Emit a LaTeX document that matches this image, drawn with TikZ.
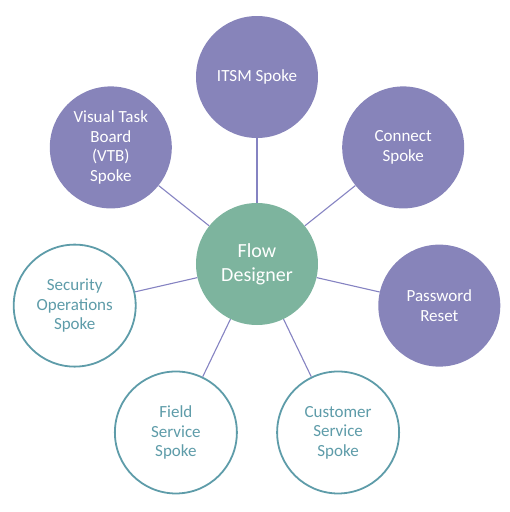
\documentclass[tikz,border=0pt]{standalone}
\usepackage{fontspec}
\setmainfont{Carlito}
\definecolor{spokefill}{HTML}{8784BA}
\definecolor{hubfill}{HTML}{7DB49E}
\definecolor{ringline}{HTML}{5E9CA9}
\definecolor{linkline}{HTML}{8583C2}
\begin{document}
\begin{tikzpicture}[x=1pt,y=1pt,
    spoke/.style={circle,fill=spokefill,text=white,minimum size=122pt,inner sep=0pt,align=center,font=\fontsize{17}{19.5}\selectfont},
    ring/.style={circle,draw=ringline,line width=1.8pt,fill=white,text=ringline,minimum size=122pt,inner sep=0pt,align=center,font=\fontsize{17}{19.5}\selectfont},
    link/.style={draw=linkline,line width=1.1pt}]
        \useasboundingbox (-257,-248) rectangle (253,264);
        %% Hub
        \node[circle,fill=hubfill,text=white,minimum size=122pt,inner sep=0pt,align=center,font=\fontsize{20}{24}\selectfont] (hub) at (0,0) {Flow\\Designer};
        %% Spokes
        \node[spoke] (itsm) at (90:187) {ITSM Spoke};
        \node[spoke] (connect) at (38.57:187) {Connect\\Spoke};
        \node[spoke] (reset) at (-12.86:187) {Password\\Reset};
        \node[ring] (csm) at (-64.29:187) {Customer\\Service\\Spoke};
        \node[ring] (field) at (-115.71:187) {Field\\Service\\Spoke};
        \node[ring] (secops) at (-167.14:187) {Security\\Operations\\Spoke};
        \node[spoke] (vtb) at (141.43:187) {Visual Task\\Board\\(VTB)\\Spoke};
        %% Links
        \foreach \n in {itsm,connect,reset,csm,field,secops,vtb}
            \draw[link] (hub) -- (\n);
    \end{tikzpicture}
\end{document}
